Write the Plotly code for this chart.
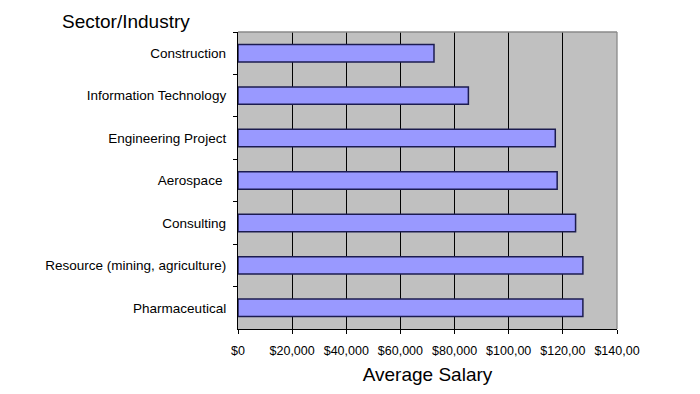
import plotly.graph_objects as go

categories = ["Construction", "Information Technology", "Engineering Project",
              "Aerospace ", "Consulting", "Resource (mining, agriculture)", "Pharmaceutical"]
salaries = [72400, 85100, 117200, 117900, 124700, 127400, 127400]
tick_values = [0, 20000, 40000, 60000, 80000, 100000, 120000, 140000]
tick_labels = ["$0", "$20,000", "$40,000", "$60,000", "$80,000", "$100,00", "$120,00", "$140,00"]

FONT = "Liberation Sans, Arial, sans-serif"

fig = go.Figure(go.Bar(
    x=salaries, y=categories, orientation="h",
    marker=dict(color="#9999FF", line=dict(color="#1c1c50", width=1.5)),
    width=0.41,
))

fig.update_layout(
    width=692, height=386,
    margin=dict(l=230, r=82.5, t=23.5, b=64.7),
    paper_bgcolor="white", plot_bgcolor="#C0C0C0",
    showlegend=False,
    font=dict(family=FONT, color="black"),
    xaxis=dict(
        range=[0, 140000], tickvals=tick_values, ticktext=tick_labels,
        showgrid=True, gridcolor="black", gridwidth=1.3,
        zeroline=False, showline=True, linecolor="black", linewidth=1.3,
        ticks="outside", ticklen=4, tickcolor="black",
        tickfont=dict(size=12.5, family=FONT), ticklabelstandoff=6,
        title=dict(text="Average Salary", font=dict(size=19, family=FONT), standoff=10),
        fixedrange=True,
    ),
    yaxis=dict(
        autorange="reversed", tickson="boundaries",
        showgrid=False, zeroline=False, showline=True, linecolor="black", linewidth=1.3,
        ticks="outside", ticklen=4, tickcolor="black",
        tickfont=dict(size=13.5, family=FONT), ticklabelstandoff=8,
    ),
    annotations=[dict(
        text="Sector/Industry", xref="paper", yref="paper",
        x=-178/379.5, y=1, xanchor="left", yanchor="bottom", yshift=-2,
        showarrow=False, font=dict(size=19, family=FONT),
    )],
    shapes=[
        dict(type="line", xref="paper", yref="paper", x0=0, x1=1, y0=1, y1=1,
             line=dict(color="#8a8a8a", width=1.3), layer="above"),
        dict(type="line", xref="paper", yref="paper", x0=1, x1=1, y0=0, y1=1,
             line=dict(color="#8a8a8a", width=1.3), layer="above"),
    ],
)

fig.write_html("out.html")
